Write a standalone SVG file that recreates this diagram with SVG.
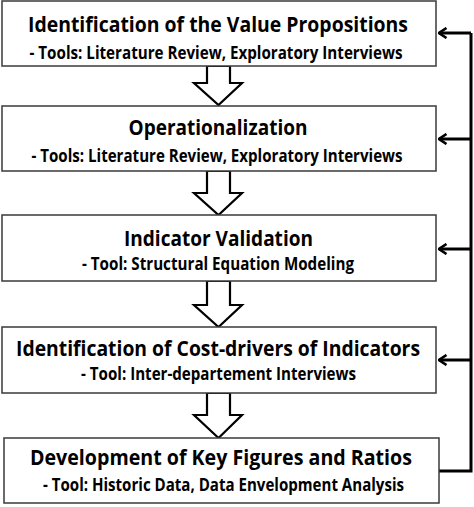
<svg xmlns="http://www.w3.org/2000/svg" width="474" height="507" viewBox="0 0 474 507">
<style>
.box{fill:#fff;stroke:#3a3a3a;stroke-width:1.5}
.t{font-family:"Open Sans","Liberation Sans",sans-serif;font-weight:bold;fill:#000;text-anchor:middle}
.h{font-size:21px}
.s{font-size:17px}
.blk{fill:#fff;stroke:#000;stroke-width:2.2;stroke-linejoin:miter}
.fb{fill:none;stroke:#000;stroke-width:3}
</style>
<defs>
<marker id="chev" viewBox="0 0 10 12" refX="8.5" refY="6" markerWidth="10" markerHeight="12" markerUnits="userSpaceOnUse" orient="auto">
<polyline points="1,1 8.5,6 1,11" fill="none" stroke="#000" stroke-width="2.6"/>
</marker>
</defs>
<rect width="474" height="507" fill="#fff"/>
<g id="connectors">
<path class="blk" d="M207,66 V83 H194 L218.5,105 L242,83 H230 V66 Z"/>
<path class="blk" d="M207,171 V193 H194 L218.5,215 L242,193 H230 V171 Z"/>
<path class="blk" d="M207,281 V305 H194 L218.5,327 L242,305 H230 V281 Z"/>
<path class="blk" d="M207,393 V415 H194 L218.5,438 L242,415 H230 V393 Z"/>
<path class="fb" d="M439,471 H471 V33"/>
<path class="fb" d="M471,33 H439" marker-end="url(#chev)"/>
<path class="fb" d="M471,139 H439" marker-end="url(#chev)"/>
<path class="fb" d="M471,249 H439" marker-end="url(#chev)"/>
<path class="fb" d="M471,360 H439" marker-end="url(#chev)"/>
</g>
<g id="n1">
<rect class="box" x="2" y="1" width="434" height="65"/>
<text class="t h" x="218" y="32" textLength="380" lengthAdjust="spacingAndGlyphs">Identification of the Value Propositions</text>
<text class="t s" x="216" y="59" textLength="373" lengthAdjust="spacingAndGlyphs">- Tools: Literature Review, Exploratory Interviews</text>
</g>
<g id="n2">
<rect class="box" x="2" y="106" width="434" height="65"/>
<text class="t h" x="218" y="135" textLength="179" lengthAdjust="spacingAndGlyphs">Operationalization</text>
<text class="t s" x="217" y="162" textLength="371" lengthAdjust="spacingAndGlyphs">- Tools: Literature Review, Exploratory Interviews</text>
</g>
<g id="n3">
<rect class="box" x="2" y="215" width="434" height="66"/>
<text class="t h" x="218.5" y="246" textLength="189" lengthAdjust="spacingAndGlyphs">Indicator Validation</text>
<text class="t s" x="218" y="270" textLength="272" lengthAdjust="spacingAndGlyphs">- Tool: Structural Equation Modeling</text>
</g>
<g id="n4">
<rect class="box" x="2" y="327" width="434" height="66"/>
<text class="t h" x="218" y="356" textLength="404" lengthAdjust="spacingAndGlyphs">Identification of Cost-drivers of Indicators</text>
<text class="t s" x="218.5" y="380" textLength="275" lengthAdjust="spacingAndGlyphs">- Tool: Inter-departement Interviews</text>
</g>
<g id="n5">
<rect class="box" x="4" y="438" width="435" height="65"/>
<text class="t h" x="221" y="465" textLength="382" lengthAdjust="spacingAndGlyphs">Development of Key Figures and Ratios</text>
<text class="t s" x="223.5" y="491" textLength="361" lengthAdjust="spacingAndGlyphs">- Tool: Historic Data, Data Envelopment Analysis</text>
</g>
</svg>
